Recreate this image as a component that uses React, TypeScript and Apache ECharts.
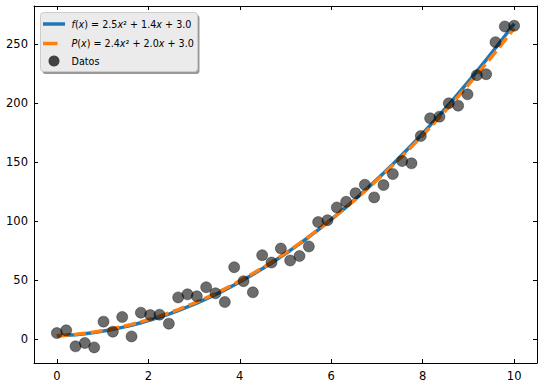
import React, { useEffect, useRef } from "react";
import * as echarts from "echarts";

const xValues = [
  0, 0.204, 0.408, 0.612, 0.816, 1.02, 1.224, 1.429, 1.633, 1.837,
  2.041, 2.245, 2.449, 2.653, 2.857, 3.061, 3.265, 3.469, 3.673, 3.878,
  4.082, 4.286, 4.49, 4.694, 4.898, 5.102, 5.306, 5.51, 5.714, 5.918,
  6.122, 6.327, 6.531, 6.735, 6.939, 7.143, 7.347, 7.551, 7.755, 7.959,
  8.163, 8.367, 8.571, 8.776, 8.98, 9.184, 9.388, 9.592, 9.796, 10,
];

const yData = [
  5.3, 7.6, -5.9, -3.1, -6.8, 15.0, 6.5, 18.9, 2.5, 22.6,
  20.6, 20.9, 13.3, 35.5, 38.1, 36.4, 44.1, 39.0, 31.6, 61.0,
  49.2, 39.8, 71.2, 65.0, 76.9, 66.7, 70.5, 78.6, 99.2, 100.8,
  111.6, 116.4, 123.7, 130.8, 120.1, 130.5, 139.8, 150.8, 148.9, 172.0,
  187.0, 188.4, 199.7, 197.7, 207.3, 223.5, 224.3, 251.4, 264.7, 265.3,
];

// polynomial coefficients (highest power first), as given in the legend
const fCoeffs = [2.5, 1.4, 3.0];
const pCoeffs = [2.4, 2.0, 3.0];

const xTicks = [0, 2, 4, 6, 8, 10];
const yTicks = [0, 50, 100, 150, 200, 250];

const labelF = "{i|f}({i|x}) = 2.5{i|x}² + 1.4{i|x} + 3.0";
const labelP = "{i|P}({i|x}) = 2.4{i|x}² + 2.0{i|x} + 3.0";
const labelD = "Datos";

function poly(c: number[], x: number) {
  return c.reduce((acc, v) => acc * x + v, 0);
}

const FONT = "DejaVu Sans";

export default function App() {
  const ref = useRef<HTMLDivElement>(null);
  useEffect(() => {
    if (!ref.current) return;
    const chart = echarts.init(ref.current, undefined, { renderer: "svg" });
    const axisLine = { show: true, onZero: false, lineStyle: { color: "#000", width: 1 } };
    const tickStyle = { show: true, inside: true, length: 4, lineStyle: { color: "#000", width: 1 } };
    const xCommon = { type: "value", min: -0.5, max: 10.5, splitLine: { show: false }, axisLine };
    const yCommon = { type: "value", min: -20, max: 282, splitLine: { show: false }, axisLine };
    const rich = { i: { fontStyle: "italic", fontFamily: FONT, fontSize: 9.6, fill: "#000" } };
    chart.setOption({
      animation: false,
      grid: { left: 34, right: 5, top: 6, bottom: 24, containLabel: false },
      xAxis: [
        {
          ...xCommon,
          position: "bottom",
          axisTick: { ...tickStyle, customValues: xTicks },
          axisLabel: { customValues: xTicks, fontSize: 11.5, color: "#000", fontFamily: FONT, margin: 7 },
        },
        {
          ...xCommon,
          position: "top",
          axisTick: { ...tickStyle, customValues: xTicks },
          axisLabel: { show: false },
        },
      ],
      yAxis: [
        {
          ...yCommon,
          position: "left",
          axisTick: { ...tickStyle, customValues: yTicks },
          axisLabel: { customValues: yTicks, fontSize: 11.5, color: "#000", fontFamily: FONT, margin: 6 },
        },
        {
          ...yCommon,
          position: "right",
          axisTick: { ...tickStyle, customValues: yTicks },
          axisLabel: { show: false },
        },
      ],
      series: [
        {
          type: "line",
          name: "f",
          data: xValues.map((x) => [x, poly(fCoeffs, x)]),
          showSymbol: false,
          lineStyle: { color: "#1f77b4", width: 3.5 },
          z: 2,
        },
        {
          type: "line",
          name: "P",
          data: xValues.map((x) => [x, poly(pCoeffs, x)]),
          showSymbol: false,
          lineStyle: { color: "#ff7f0e", width: 3.5, type: [12, 5] },
          z: 3,
        },
        {
          type: "scatter",
          name: "Datos",
          data: xValues.map((x, i) => [x, yData[i]]),
          symbolSize: 11,
          itemStyle: { color: "rgba(0,0,0,0.72)", borderColor: "rgba(0,0,0,0.75)", borderWidth: 0.6 },
          z: 4,
        },
      ],
      graphic: [
        {
          type: "rect",
          shape: { x: 42.5, y: 15, width: 157, height: 59, r: 3 },
          style: { fill: "#999999" },
          z: 10,
        },
        {
          type: "rect",
          shape: { x: 40.5, y: 12.5, width: 157, height: 59, r: 3 },
          style: { fill: "#ebebeb", stroke: "#cccccc", lineWidth: 1 },
          z: 11,
        },
        {
          type: "line",
          shape: { x1: 43, y1: 24, x2: 65, y2: 24 },
          style: { stroke: "#1f77b4", lineWidth: 3.5 },
          z: 12,
        },
        {
          type: "line",
          shape: { x1: 43, y1: 43.5, x2: 57.5, y2: 43.5 },
          style: { stroke: "#ff7f0e", lineWidth: 3.5 },
          z: 12,
        },
        {
          type: "circle",
          shape: { cx: 54, cy: 61, r: 5.5 },
          style: { fill: "rgba(0,0,0,0.72)" },
          z: 12,
        },
        {
          type: "text",
          x: 71.5,
          y: 24,
          style: { text: labelF, fontFamily: FONT, fontSize: 9.6, fill: "#000", verticalAlign: "middle", rich },
          z: 12,
        },
        {
          type: "text",
          x: 71.5,
          y: 43.5,
          style: { text: labelP, fontFamily: FONT, fontSize: 9.6, fill: "#000", verticalAlign: "middle", rich },
          z: 12,
        },
        {
          type: "text",
          x: 71.5,
          y: 61,
          style: { text: labelD, fontFamily: FONT, fontSize: 9.6, fill: "#000", verticalAlign: "middle" },
          z: 12,
        },
      ],
    });
    return () => chart.dispose();
  }, []);
  return <div ref={ref} style={{ width: 542, height: 387, position: "absolute", left: 0, top: 0 }} />;
}
